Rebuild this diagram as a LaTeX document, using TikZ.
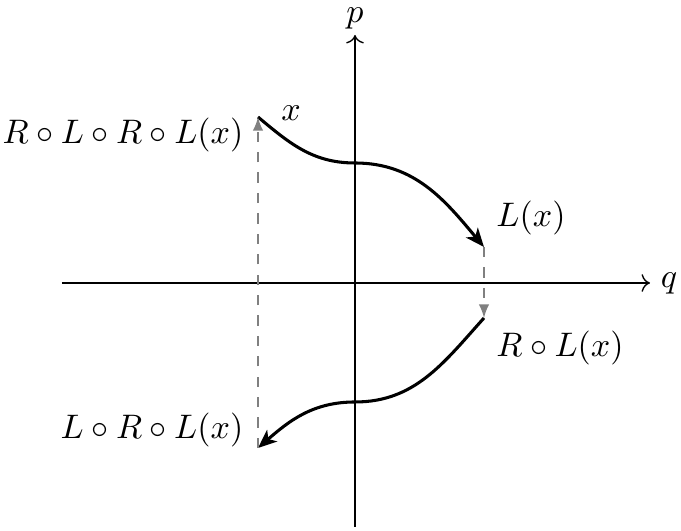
\documentclass[tikz,border=0pt]{standalone}
\usetikzlibrary{arrows}
\usetikzlibrary{arrows.meta}
\usetikzlibrary{positioning}
\tikzset {
  axis/.style = {
    draw = black,
    ->
  },
  % path style for the maps L and R
  flow/.style = {
    draw = black,
    line width = 0.9pt,
    -{Stealth[length = 5.5pt, width = 4.5pt, inset = 1.5pt]}
  },
  % path style for the jumps between branches
  jump/.style = {
    draw = gray,
    dashed,
    -latex
  },
  lbl/.style = {
    inner sep = 0
  }
}

\begin{document}
\begin{tikzpicture}[x=0.294pt, y=0.294pt]
    \useasboundingbox (-355,-248) rectangle (326,283);

    \coordinate (qmin) at (-293,0);
    \coordinate (qmax) at (295,0);
    \coordinate (pmin) at (0,-244);
    \coordinate (pmax) at (0,248);
    \node[lbl] (q) at (314,0) {$q$};
    \node[lbl] (p) at (0,264) {$p$};

    \coordinate (x) at (-97,166);
    \coordinate (lx) at (129,36);
    \coordinate (rlx) at (129,-35);
    \coordinate (lrlx) at (-97,-165);
    \coordinate (top) at (0,120);
    \coordinate (bot) at (0,-119);

    \node[lbl] (x-lbl) at (-64,170) {$x$};
    \node[lbl] (lx-lbl) at (176,65) {$L(x)$};
    \node[lbl] (rlx-lbl) at (205,-65) {$R\circ L(x)$};
    \node[lbl] (lrlx-lbl) at (-203,-147) {$L\circ R\circ L(x)$};
    \node[lbl] (rlrlx-lbl) at (-232,148) {$R\circ L\circ R\circ L(x)$};

    \draw[axis] (qmin) -- (qmax);
    \draw[axis] (pmin) -- (pmax);

    \draw[flow] (x) to[out=-40, in=180] (top) to[out=0, in=130] (lx);
    \draw[flow] (rlx) to[out=-132, in=0] (bot) to[out=180, in=41] (lrlx);
    \draw[jump] (lx) -- (rlx);
    \draw[jump] (lrlx) -- (x);
\end{tikzpicture}
\end{document}
